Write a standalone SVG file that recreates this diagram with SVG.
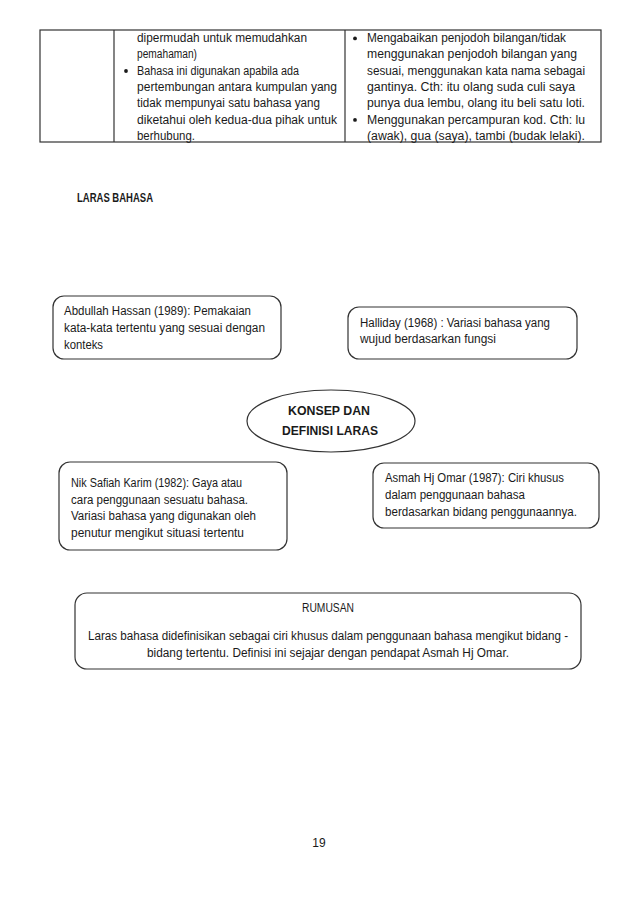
<svg xmlns="http://www.w3.org/2000/svg" width="638" height="902" viewBox="0 0 638 902">
<style>
text{font-family:"Liberation Sans",Arial,sans-serif;font-size:12px;fill:#1a1a1a}
.b{font-weight:bold}
.box{fill:#fff;stroke:#333;stroke-width:1.2}
.tl{stroke:#333;stroke-width:1.2;fill:none}
.c{text-anchor:middle}
</style>
<rect width="638" height="902" fill="#fff"/>
<g id="table">
<rect class="tl" x="40" y="30" width="561" height="112"/>
<line class="tl" x1="114" y1="30" x2="114" y2="142"/>
<line class="tl" x1="345" y1="30" x2="345" y2="142"/>
<text x="137" y="42" textLength="170" lengthAdjust="spacingAndGlyphs">dipermudah untuk memudahkan</text>
<text x="137" y="58.3" textLength="60" lengthAdjust="spacingAndGlyphs">pemahaman)</text>
<circle cx="126" cy="71" r="1.9" fill="#1a1a1a"/>
<text x="137" y="74.6" textLength="162" lengthAdjust="spacingAndGlyphs">Bahasa ini digunakan apabila ada</text>
<text x="137" y="90.9" textLength="200" lengthAdjust="spacingAndGlyphs">pertembungan antara kumpulan yang</text>
<text x="137" y="107.2" textLength="183" lengthAdjust="spacingAndGlyphs">tidak mempunyai satu bahasa yang</text>
<text x="137" y="123.5" textLength="200" lengthAdjust="spacingAndGlyphs">diketahui oleh kedua-dua pihak untuk</text>
<text x="137" y="139.8" textLength="58" lengthAdjust="spacingAndGlyphs">berhubung.</text>
<circle cx="355" cy="38.4" r="1.9" fill="#1a1a1a"/>
<text x="367" y="42" textLength="199" lengthAdjust="spacingAndGlyphs">Mengabaikan penjodoh bilangan/tidak</text>
<text x="367" y="58.3" textLength="210" lengthAdjust="spacingAndGlyphs">menggunakan penjodoh bilangan yang</text>
<text x="367" y="74.6" textLength="218" lengthAdjust="spacingAndGlyphs">sesuai, menggunakan kata nama sebagai</text>
<text x="367" y="90.9" textLength="208" lengthAdjust="spacingAndGlyphs">gantinya. Cth: itu olang suda culi saya</text>
<text x="367" y="107.2" textLength="218" lengthAdjust="spacingAndGlyphs">punya dua lembu, olang itu beli satu loti.</text>
<circle cx="355" cy="119.9" r="1.9" fill="#1a1a1a"/>
<text x="367" y="123.5" textLength="218" lengthAdjust="spacingAndGlyphs">Menggunakan percampuran kod. Cth: lu</text>
<text x="367" y="139.8" textLength="218" lengthAdjust="spacingAndGlyphs">(awak), gua (saya), tambi (budak lelaki).</text>
</g>
<g id="heading">
<text class="b" x="77" y="202" font-size="11" textLength="76" lengthAdjust="spacingAndGlyphs">LARAS BAHASA</text>
</g>
<g id="connectors"></g>
<g id="node-abdullah">
<rect class="box" x="53" y="296" width="228" height="63" rx="11"/>
<text x="64" y="315" textLength="187" lengthAdjust="spacingAndGlyphs">Abdullah Hassan (1989): Pemakaian</text>
<text x="64" y="332" textLength="201" lengthAdjust="spacingAndGlyphs">kata-kata tertentu yang sesuai dengan</text>
<text x="64" y="349" textLength="39" lengthAdjust="spacingAndGlyphs">konteks</text>
</g>
<g id="node-halliday">
<rect class="box" x="348" y="307" width="229" height="52" rx="11"/>
<text x="360" y="327" textLength="190" lengthAdjust="spacingAndGlyphs">Halliday (1968) : Variasi bahasa yang</text>
<text x="360" y="343" textLength="136" lengthAdjust="spacingAndGlyphs">wujud berdasarkan fungsi</text>
</g>
<g id="node-konsep">
<ellipse class="box" cx="331" cy="421" rx="84" ry="31"/>
<text class="b c" x="329" y="415" font-size="13" textLength="82" lengthAdjust="spacingAndGlyphs">KONSEP DAN</text>
<text class="b c" x="330" y="435" font-size="13" textLength="96" lengthAdjust="spacingAndGlyphs">DEFINISI LARAS</text>
</g>
<g id="node-nik">
<rect class="box" x="59" y="462" width="228" height="88" rx="11"/>
<text x="71" y="487" textLength="171" lengthAdjust="spacingAndGlyphs">Nik Safiah Karim (1982): Gaya atau</text>
<text x="71" y="503.5" textLength="177" lengthAdjust="spacingAndGlyphs">cara penggunaan sesuatu bahasa.</text>
<text x="71" y="520" textLength="185" lengthAdjust="spacingAndGlyphs">Variasi bahasa yang digunakan oleh</text>
<text x="71" y="536.5" textLength="173" lengthAdjust="spacingAndGlyphs">penutur mengikut situasi tertentu</text>
</g>
<g id="node-asmah">
<rect class="box" x="373" y="463" width="226" height="65" rx="11"/>
<text x="385" y="482" textLength="179" lengthAdjust="spacingAndGlyphs">Asmah Hj Omar (1987): Ciri khusus</text>
<text x="385" y="499" textLength="140" lengthAdjust="spacingAndGlyphs">dalam penggunaan bahasa</text>
<text x="385" y="516" textLength="192" lengthAdjust="spacingAndGlyphs">berdasarkan bidang penggunaannya.</text>
</g>
<g id="node-rumusan">
<rect class="box" x="75" y="593" width="506" height="76" rx="12"/>
<text class="c" x="328" y="612" textLength="52" lengthAdjust="spacingAndGlyphs">RUMUSAN</text>
<text class="c" x="328" y="640" textLength="480" lengthAdjust="spacingAndGlyphs">Laras bahasa didefinisikan sebagai ciri khusus dalam penggunaan bahasa mengikut bidang -</text>
<text class="c" x="328" y="657" textLength="362" lengthAdjust="spacingAndGlyphs">bidang tertentu. Definisi ini sejajar dengan pendapat Asmah Hj Omar.</text>
</g>
<g id="page-number">
<text class="c" x="319" y="847">19</text>
</g>
</svg>
